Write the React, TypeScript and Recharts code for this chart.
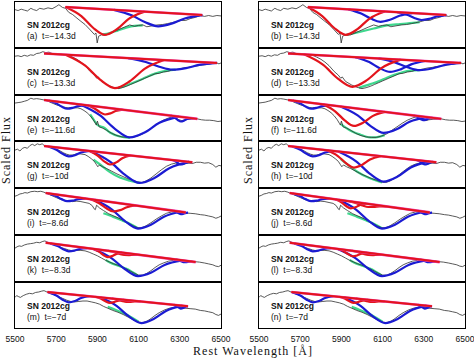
import React from "react";
import { LineChart, Line, XAxis, YAxis } from "recharts";

type Pt = [number, number];

const xTicks = [5500, 5600, 5700, 5800, 5900, 6000, 6100, 6200, 6300, 6400, 6500];
const xLabels = [5500, 5700, 5900, 6100, 6300, 6500];
const yTicks = [0.2, 0.4, 0.6, 0.8];
const epochs = ["−14.3d", "−13.3d", "−11.6d", "−10d", "−8.6d", "−8.3d", "−7d"];

// observed spectra, one per epoch (shared by both fits of a row)
const spec1: Pt[] = [[5500,.83],[5515,.81],[5530,.84],[5545,.82],[5560,.80],[5577,.86],[5590,.83],[5605,.81],[5620,.86],[5640,.84],[5660,.87],[5680,.85],[5700,.90],[5713,.94],[5730,.88],[5745,.86],[5761,.77],[5780,.72],[5801,.64],[5820,.57],[5840,.50],[5865,.38],[5885,.28],[5893,.31],[5899,.09],[5906,.24],[5920,.27],[5945,.27],[5975,.33],[6000,.38],[6030,.44],[6057,.49],[6080,.46],[6100,.48],[6121,.49],[6140,.45],[6165,.47],[6190,.49],[6217,.50],[6240,.52],[6260,.54],[6281,.56],[6305,.59],[6329,.59],[6350,.63],[6377,.66],[6400,.70],[6420,.68],[6440,.70],[6460,.68],[6480,.70],[6500,.69]];
const spec2: Pt[] = [[5500,.84],[5515,.85],[5530,.83],[5545,.86],[5560,.84],[5575,.87],[5590,.86],[5605,.90],[5620,.91],[5635,.94],[5650,.92],[5665,.93],[5680,.90],[5700,.90],[5720,.89],[5740,.87],[5760,.86],[5780,.82],[5801,.77],[5820,.71],[5840,.63],[5865,.50],[5885,.42],[5897,.35],[5904,.38],[5920,.28],[5950,.20],[5975,.15],[6000,.12],[6020,.14],[6040,.17],[6060,.21],[6080,.25],[6100,.29],[6130,.35],[6160,.41],[6180,.45],[6200,.46],[6220,.49],[6240,.50],[6260,.53],[6280,.54],[6300,.56],[6320,.58],[6340,.59],[6360,.61],[6380,.62],[6400,.64],[6420,.65],[6440,.66],[6460,.68],[6475,.70],[6490,.67],[6500,.69]];
const spec3: Pt[] = [[5500,.84],[5515,.85],[5530,.86],[5545,.88],[5560,.90],[5577,.95],[5590,.93],[5605,.94],[5620,.93],[5641,.91],[5655,.89],[5670,.86],[5685,.83],[5700,.80],[5715,.78],[5730,.75],[5745,.74],[5760,.73],[5775,.74],[5790,.73],[5805,.73],[5820,.71],[5835,.67],[5850,.62],[5865,.55],[5880,.46],[5890,.38],[5895,.34],[5900,.43],[5908,.30],[5925,.27],[5945,.22],[5970,.15],[5995,.10],[6020,.07],[6045,.06],[6070,.06],[6095,.09],[6120,.14],[6145,.22],[6170,.30],[6195,.38],[6220,.45],[6245,.50],[6265,.53],[6280,.50],[6295,.46],[6310,.44],[6325,.46],[6345,.47],[6365,.47],[6385,.48],[6405,.46],[6425,.45],[6445,.45],[6465,.44],[6485,.42],[6500,.43]];
const spec4: Pt[] = [[5500,.82],[5512,.84],[5524,.80],[5536,.86],[5548,.88],[5560,.86],[5572,.92],[5584,.95],[5596,.92],[5608,.96],[5620,.94],[5632,.96],[5645,.91],[5660,.90],[5675,.88],[5690,.85],[5705,.83],[5720,.80],[5735,.76],[5750,.73],[5765,.71],[5780,.71],[5795,.73],[5810,.74],[5825,.73],[5840,.72],[5855,.68],[5870,.63],[5885,.57],[5895,.50],[5902,.45],[5910,.49],[5925,.45],[5945,.41],[5970,.35],[5995,.29],[6020,.24],[6045,.19],[6070,.15],[6095,.11],[6115,.10],[6135,.13],[6160,.20],[6185,.29],[6210,.38],[6235,.46],[6260,.51],[6280,.53],[6300,.51],[6320,.51],[6340,.53],[6360,.52],[6380,.55],[6400,.55],[6420,.53],[6440,.54],[6460,.50],[6475,.44],[6490,.48],[6500,.47]];
const spec5: Pt[] = [[5500,.84],[5512,.86],[5524,.89],[5536,.90],[5548,.92],[5560,.91],[5577,.94],[5595,.95],[5610,.94],[5625,.95],[5640,.93],[5655,.90],[5670,.87],[5685,.84],[5700,.81],[5720,.77],[5740,.75],[5760,.73],[5780,.72],[5800,.73],[5820,.72],[5840,.70],[5860,.68],[5875,.63],[5884,.56],[5890,.54],[5896,.64],[5910,.58],[5930,.52],[5955,.45],[5980,.40],[6005,.35],[6030,.29],[6055,.23],[6075,.18],[6095,.14],[6115,.14],[6135,.18],[6160,.25],[6185,.33],[6210,.40],[6235,.46],[6260,.49],[6285,.48],[6305,.45],[6325,.47],[6350,.46],[6375,.45],[6400,.43],[6420,.42],[6440,.40],[6460,.38],[6475,.35],[6488,.37],[6500,.40]];
const spec6: Pt[] = [[5500,.73],[5510,.76],[5520,.78],[5532,.77],[5545,.80],[5560,.82],[5575,.83],[5590,.84],[5605,.86],[5620,.85],[5635,.88],[5645,.89],[5660,.86],[5680,.83],[5700,.79],[5720,.75],[5740,.72],[5760,.69],[5780,.67],[5800,.68],[5820,.68],[5840,.67],[5860,.64],[5880,.60],[5900,.56],[5920,.51],[5940,.46],[5960,.42],[5980,.38],[6000,.35],[6020,.31],[6040,.27],[6060,.22],[6080,.17],[6100,.13],[6120,.13],[6140,.17],[6160,.23],[6180,.30],[6200,.36],[6220,.40],[6245,.44],[6270,.46],[6295,.45],[6320,.43],[6345,.43],[6370,.43],[6395,.42],[6420,.40],[6440,.38],[6460,.36],[6475,.33],[6488,.32],[6500,.35]];
const spec7: Pt[] = [[5500,.68],[5508,.72],[5516,.70],[5526,.68],[5540,.72],[5555,.75],[5570,.77],[5585,.76],[5600,.79],[5615,.80],[5630,.82],[5641,.83],[5655,.80],[5670,.77],[5690,.74],[5710,.70],[5730,.66],[5750,.62],[5770,.59],[5790,.58],[5810,.59],[5830,.60],[5850,.60],[5870,.58],[5890,.56],[5910,.53],[5930,.48],[5950,.44],[5975,.39],[6000,.35],[6025,.30],[6050,.24],[6075,.18],[6100,.13],[6120,.12],[6140,.15],[6160,.21],[6180,.28],[6200,.34],[6225,.40],[6250,.44],[6275,.46],[6300,.46],[6325,.44],[6350,.43],[6375,.42],[6400,.39],[6420,.38],[6440,.36],[6460,.34],[6475,.30],[6488,.28],[6500,.31]];

// fitted continua and Gaussian components
const contA: Pt[] = [[5745,.89],[6409,.71]];
const redA1: Pt[] = [[5745,.890],[5822,.687],[5879,.428],[5937,.270],[5995,.396],[6052,.625],[6129,.786]];
const blueA1: Pt[] = [[5980,.826],[6066,.704],[6130,.555],[6195,.460],[6260,.519],[6324,.634],[6410,.710]];
const greenA: Pt[] = [[5925,.28],[5960,.31],[6000,.37],[6040,.43],[6080,.47],[6120,.48]];

const contB: Pt[] = [[5737,.89],[6409,.71]];
const redB1: Pt[] = [[5737,.890],[5807,.688],[5864,.428],[5921,.270],[5978,.397],[6035,.627],[6111,.790]];
const blueB1: Pt[] = [[5934,.837],[5996,.745],[6043,.631],[6089,.560],[6136,.606],[6182,.695],[6244,.754]];
const blueB2: Pt[] = [[6170,.774],[6218,.716],[6254,.645],[6290,.600],[6326,.625],[6362,.678],[6410,.710]];
const greenB: Pt[] = [[5925,.27],[5993,.34],[6057,.41],[6121,.48],[6185,.51],[6233,.53],[6280,.55]];

const contC: Pt[] = [[5641,.90],[6481,.69]];
const redC1: Pt[] = [[5745,.874],[5841,.631],[5913,.319],[5985,.130],[6057,.283],[6129,.559],[6225,.754]];
const blueC1: Pt[] = [[6049,.798],[6135,.712],[6200,.607],[6265,.540],[6330,.575],[6395,.646],[6481,.690]];
const greenC: Pt[] = [[6000,.13],[6040,.19],[6080,.26],[6121,.34],[6160,.42],[6200,.48],[6240,.52],[6280,.54]];

const redD1: Pt[] = [[5718,.881],[5812,.645],[5883,.343],[5953,.160],[6024,.307],[6094,.575],[6188,.763]];
const blueD1: Pt[] = [[5967,.818],[6035,.710],[6086,.574],[6137,.490],[6188,.548],[6239,.658],[6307,.733]];
const blueD2: Pt[] = [[6080,.790],[6160,.703],[6220,.597],[6280,.530],[6340,.567],[6400,.643],[6480,.690]];
const greenD: Pt[] = [[5985,.14],[6041,.22],[6080,.28],[6121,.36],[6160,.43],[6200,.49],[6240,.52],[6280,.53]];

const contE: Pt[] = [[5641,.91],[6385,.48]];
const blueE1: Pt[] = [[5663,.897],[5699,.833],[5726,.760],[5753,.710],[5780,.729],[5807,.771],[5843,.793]];
const redE1: Pt[] = [[5852,.788],[5886,.717],[5912,.634],[5937,.580],[5963,.605],[5988,.658],[6022,.690]];
const blueE2: Pt[] = [[5817,.808],[5913,.558],[5985,.253],[6057,.060],[6129,.170],[6201,.391],[6297,.531]];
const blueE3: Pt[] = [[6255,.555],[6275,.510],[6290,.455],[6305,.420],[6320,.438],[6335,.475],[6355,.497]];
const greenE: Pt[] = [[5865,.58],[5881,.47],[5897,.36],[5913,.31],[5929,.29],[5961,.17],[6009,.08],[6057,.05]];

const redF1: Pt[] = [[5811,.812],[5871,.647],[5916,.447],[5961,.320],[6006,.395],[6051,.543],[6111,.638]];
const blueF2: Pt[] = [[5895,.763],[5979,.561],[6042,.316],[6105,.160],[6168,.243],[6231,.415],[6315,.520]];
const blueF3: Pt[] = [[6252,.557],[6270,.520],[6284,.477],[6297,.450],[6311,.462],[6324,.489],[6342,.505]];
const greenF: Pt[] = [[5897,.36],[5921,.28],[5945,.21],[5969,.16],[5993,.12],[6017,.08],[6041,.06],[6065,.06],[6089,.08],[6110,.11]];

const contG: Pt[] = [[5641,.91],[6361,.55]];
const blueG1: Pt[] = [[5661,.900],[5701,.826],[5731,.737],[5761,.680],[5791,.707],[5821,.766],[5861,.800]];
const redG1: Pt[] = [[5861,.800],[5901,.700],[5931,.577],[5961,.500],[5991,.547],[6021,.640],[6061,.700]];
const blueG2: Pt[] = [[5865,.798],[5961,.562],[6033,.273],[6105,.090],[6177,.201],[6249,.418],[6345,.558]];
const blueG3: Pt[] = [[6265,.598],[6281,.565],[6293,.525],[6305,.500],[6317,.513],[6329,.541],[6345,.558]];
const greenG: Pt[] = [[5881,.61],[5913,.50],[5961,.33],[6009,.21],[6057,.14],[6105,.09]];

const redH1: Pt[] = [[5831,.815],[5883,.687],[5922,.530],[5961,.430],[6000,.491],[6039,.609],[6091,.685]];
const blueH2: Pt[] = [[5885,.788],[5973,.565],[6039,.292],[6105,.120],[6171,.226],[6237,.433],[6325,.568]];
const greenH: Pt[] = [[5897,.62],[5929,.50],[5977,.34],[6025,.22],[6065,.15],[6097,.10]];

const contI: Pt[] = [[5649,.91],[6329,.48]];
const blueI1: Pt[] = [[5663,.901],[5699,.842],[5726,.775],[5753,.730],[5780,.741],[5807,.774],[5843,.787]];
const redI1: Pt[] = [[5867,.772],[5911,.679],[5944,.572],[5977,.500],[6010,.530],[6043,.596],[6087,.633]];
const blueI2: Pt[] = [[5887,.760],[5971,.544],[6034,.287],[6097,.120],[6160,.207],[6223,.385],[6307,.494]];
const blueI3: Pt[] = [[6270,.518],[6284,.491],[6295,.461],[6305,.440],[6316,.447],[6326,.464],[6340,.473]];
const greenI: Pt[] = [[5929,.46],[5977,.38],[6025,.29],[6057,.23],[6097,.13]];

const redJ1: Pt[] = [[5870,.770],[5900,.702],[5923,.622],[5945,.570],[5968,.593],[5990,.645],[6020,.676]];
const redJ2: Pt[] = [[5940,.726],[5976,.681],[6003,.634],[6030,.600],[6057,.600],[6084,.613],[6120,.612]];

const contK: Pt[] = [[5649,.85],[6377,.42]];
const blueK1: Pt[] = [[5671,.837],[5707,.776],[5734,.707],[5761,.660],[5788,.675],[5815,.712],[5851,.731]];
const redK1: Pt[] = [[5880,.713],[5908,.652],[5929,.578],[5950,.530],[5971,.553],[5992,.602],[6020,.631]];
const redK2: Pt[] = [[5950,.672],[5982,.639],[6006,.605],[6030,.580],[6054,.577],[6078,.582],[6110,.578]];
const blueK2: Pt[] = [[5882,.712],[5968,.509],[6033,.267],[6097,.110],[6162,.191],[6226,.357],[6312,.458]];
const blueK3: Pt[] = [[6281,.476],[6297,.456],[6309,.435],[6321,.420],[6333,.421],[6345,.428],[6361,.429]];
const greenK: Pt[] = [[5940,.47],[5961,.41],[6009,.33],[6041,.27],[6097,.12]];

const redL1: Pt[] = [[5885,.711],[5913,.656],[5934,.593],[5955,.550],[5976,.568],[5997,.606],[6025,.628]];

const contM: Pt[] = [[5657,.80],[6340,.485]];
const blueM1: Pt[] = [[5661,.798],[5701,.722],[5731,.629],[5761,.570],[5791,.601],[5821,.666],[5861,.706]];
const redM1: Pt[] = [[5890,.693],[5918,.648],[5939,.595],[5960,.560],[5981,.576],[6002,.609],[6030,.628]];
const redM2: Pt[] = [[5970,.656],[5998,.629],[6019,.601],[6040,.580],[6061,.582],[6082,.590],[6110,.591]];
const blueM2: Pt[] = [[5913,.682],[5993,.491],[6053,.257],[6113,.110],[6173,.202],[6233,.380],[6313,.498]];
const blueM3: Pt[] = [[6270,.517],[6284,.488],[6295,.453],[6305,.430],[6316,.443],[6326,.469],[6340,.485]];
const greenM: Pt[] = [[5950,.47],[5990,.40],[6030,.32],[6060,.25],[6100,.14]];

interface PanelDef {
  id: string;
  spec: Pt[];
  cont: Pt[];
  reds: Pt[][];
  blues: Pt[][];
  green: Pt[];
}

const panels: PanelDef[] = [
  { id: "a", spec: spec1, cont: contA, reds: [redA1], blues: [blueA1], green: greenA },
  { id: "b", spec: spec1, cont: contB, reds: [redB1], blues: [blueB1, blueB2], green: greenB },
  { id: "c", spec: spec2, cont: contC, reds: [redC1], blues: [blueC1], green: greenC },
  { id: "d", spec: spec2, cont: contC, reds: [redD1], blues: [blueD1, blueD2], green: greenD },
  { id: "e", spec: spec3, cont: contE, reds: [redE1], blues: [blueE1, blueE2, blueE3], green: greenE },
  { id: "f", spec: spec3, cont: contE, reds: [redF1], blues: [blueE1, blueF2, blueF3], green: greenF },
  { id: "g", spec: spec4, cont: contG, reds: [redG1], blues: [blueG1, blueG2, blueG3], green: greenG },
  { id: "h", spec: spec4, cont: contG, reds: [redH1], blues: [blueG1, blueH2, blueG3], green: greenH },
  { id: "i", spec: spec5, cont: contI, reds: [redI1], blues: [blueI1, blueI2, blueI3], green: greenI },
  { id: "j", spec: spec5, cont: contI, reds: [redJ1, redJ2], blues: [blueI1, blueI2, blueI3], green: greenI },
  { id: "k", spec: spec6, cont: contK, reds: [redK1, redK2], blues: [blueK1, blueK2, blueK3], green: greenK },
  { id: "l", spec: spec6, cont: contK, reds: [redL1, redK2], blues: [blueK1, blueK2, blueK3], green: greenK },
  { id: "m", spec: spec7, cont: contM, reds: [redM1, redM2], blues: [blueM1, blueM2, blueM3], green: greenM },
  { id: "n", spec: spec7, cont: contM, reds: [redM1, redM2], blues: [blueM1, blueM2, blueM3], green: greenM },
];

const RED = "#e3141c";
const PINK = "#f040b8";
const BLUE = "#1b1bd2";
const GREEN = "#3fd88e";
const SANS = "'Liberation Sans', Arial, sans-serif";
const SERIF = "'Liberation Serif', 'Times New Roman', serif";

const rows = (a: Pt[]) => a.map(([w, f]) => ({ w, f }));

const rowTop = (r: number) => Math.round(1 + r * 46.8);
const colLeft = (c: number) => (c === 0 ? 14 : 258);
const PW = 208;
const PAD = 16; // room for edge tick labels on the bottom row

function Panel({ p, index }: { p: PanelDef; index: number }) {
  const row = Math.floor(index / 2);
  const col = index % 2;
  const top = rowTop(row);
  const height = rowTop(row + 1) - top;
  const last = row === 6;
  const innerW = PW - 2;
  const innerH = height - 2;
  return (
    <div
      style={{
        position: "absolute",
        left: colLeft(col),
        top,
        width: PW,
        height,
        boxSizing: "border-box",
        border: "1px solid #000",
      }}
    >
      <div style={{ marginLeft: -PAD }}>
        <LineChart
          width={innerW + 2 * PAD}
          height={innerH + (last ? 18 : 0)}
          margin={{ top: 0, right: PAD, bottom: 0, left: PAD }}
        >
          <XAxis xAxisId={0} type="number" dataKey="w" domain={[5500, 6500]} allowDataOverflow ticks={xTicks}
            mirror tick={false} tickSize={3} axisLine={false} tickLine={{ stroke: "#000" }} />
          <XAxis xAxisId="top" orientation="top" type="number" dataKey="w" domain={[5500, 6500]} allowDataOverflow
            ticks={xTicks} mirror tick={false} tickSize={3} axisLine={false} tickLine={{ stroke: "#000" }} />
          {last && (
            <XAxis xAxisId="lbl" type="number" dataKey="w" domain={[5500, 6500]} allowDataOverflow ticks={xLabels}
              interval={0} height={18} tickLine={false} axisLine={false}
              tick={{ fontSize: 8.5, fill: "#111", fontFamily: SANS }} />
          )}
          <YAxis yAxisId={0} type="number" domain={[0, 1]} allowDataOverflow ticks={yTicks} mirror tick={false}
            tickSize={2} axisLine={false} tickLine={{ stroke: "#000" }} />
          <YAxis yAxisId="r" orientation="right" type="number" domain={[0, 1]} allowDataOverflow ticks={yTicks}
            mirror tick={false} tickSize={2} axisLine={false} tickLine={{ stroke: "#000" }} />

          <Line data={rows(p.green)} dataKey="f" type="monotone" stroke={GREEN} strokeWidth={2.2}
            dot={false} isAnimationActive={false} />
          <Line data={rows(p.spec)} dataKey="f" type="linear" stroke="#2e2e2e" strokeWidth={0.8}
            dot={false} isAnimationActive={false} />
          {p.blues.map((b, i) => (
            <Line key={"b" + i} data={rows(b)} dataKey="f" type="monotone" stroke={BLUE} strokeWidth={2.2}
              dot={false} isAnimationActive={false} />
          ))}
          {p.reds.map((r, i) => (
            <Line key={"r" + i} data={rows(r)} dataKey="f" type="monotone" stroke={RED} strokeWidth={2.2}
              dot={false} isAnimationActive={false} />
          ))}
          <Line data={rows(p.cont)} dataKey="f" type="linear" stroke={PINK} strokeWidth={2.6}
            dot={false} isAnimationActive={false} />
          <Line data={rows(p.cont)} dataKey="f" type="linear" stroke={RED} strokeWidth={2}
            dot={false} isAnimationActive={false} />
        </LineChart>
      </div>
    </div>
  );
}

export default function App() {
  return (
    <div
      style={{
        position: "absolute",
        left: 0,
        top: 0,
        width: 474,
        height: 359,
        background: "#fff",
        overflow: "hidden",
      }}
    >
      {panels.map((p, i) => (
        <Panel key={p.id} p={p} index={i} />
      ))}
      <svg width={474} height={359} style={{ position: "absolute", left: 0, top: 0, pointerEvents: "none" }}>
        {panels.map((p, i) => {
          const row = Math.floor(i / 2);
          const x = colLeft(i % 2) + 13;
          const y = rowTop(row);
          return (
            <g key={p.id} fontFamily={SANS} fontSize={8.5} fill="#111">
              <text x={x} y={y + 27} fontWeight="bold">SN 2012cg</text>
              <text x={x} y={y + 38} style={{ whiteSpace: "pre" }}>{`(${p.id})  t=${epochs[row]}`}</text>
            </g>
          );
        })}
        <text transform="translate(10,150) rotate(-90)" textAnchor="middle" fontFamily={SERIF} fontSize={12}
          letterSpacing={1} fill="#111">Scaled Flux</text>
        <text transform="translate(252,150) rotate(-90)" textAnchor="middle" fontFamily={SERIF} fontSize={12}
          letterSpacing={1} fill="#111">Scaled Flux</text>
        <text x={253} y={355} textAnchor="middle" fontFamily={SERIF} fontSize={12} letterSpacing={1}
          fill="#111">Rest Wavelength [Å]</text>
      </svg>
    </div>
  );
}
